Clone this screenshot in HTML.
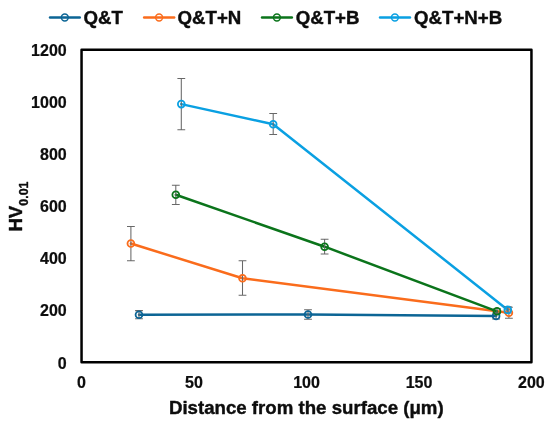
<!DOCTYPE html>
<html lang="en"><head><meta charset="utf-8"><title>HV0.01 vs distance from the surface</title>
<style>
html,body{margin:0;padding:0;background:#fff;}
body{width:550px;height:424px;overflow:hidden;}
svg{display:block;}
text{font-family:"Liberation Sans",Arial,sans-serif;font-weight:bold;fill:#0d0d0d;stroke:#0d0d0d;stroke-width:0.5px;stroke-linejoin:round;}
.t{font-size:16px;stroke-width:0.22px;}
.l{font-size:18.67px;stroke-width:0.4px;}
</style></head><body>
<svg width="550" height="424" viewBox="0 0 550 424">
<rect width="550" height="424" fill="#ffffff"/>
<polyline points="139.0,314.7 308.0,314.5 496.1,315.9" fill="none" stroke="#0c6595" stroke-width="2.5" stroke-linejoin="round" stroke-linecap="round"/>
<path d="M139.0 310.6V318.7M135.1 310.6h7.8M135.1 318.7h7.8" fill="none" stroke="#686868" stroke-width="1.05"/>
<path d="M308.0 309.8V319.3M304.1 309.8h7.8M304.1 319.3h7.8" fill="none" stroke="#686868" stroke-width="1.05"/>
<path d="M496.1 312.9V318.9M492.2 312.9h7.8M492.2 318.9h7.8" fill="none" stroke="#686868" stroke-width="1.05"/>
<circle cx="139.0" cy="314.7" r="3.4" fill="none" stroke="#0c6595" stroke-width="1.8"/>
<circle cx="308.0" cy="314.5" r="3.4" fill="none" stroke="#0c6595" stroke-width="1.8"/>
<circle cx="496.1" cy="315.9" r="3.4" fill="none" stroke="#0c6595" stroke-width="1.8"/>
<polyline points="130.9,243.5 242.5,278.3 508.9,312.8" fill="none" stroke="#fa6c1c" stroke-width="2.5" stroke-linejoin="round" stroke-linecap="round"/>
<path d="M130.9 226.5V260.8M127.0 226.5h7.8M127.0 260.8h7.8" fill="none" stroke="#686868" stroke-width="1.05"/>
<path d="M242.5 260.7V295.2M238.6 260.7h7.8M238.6 295.2h7.8" fill="none" stroke="#686868" stroke-width="1.05"/>
<path d="M508.9 307.3V318.3M505.0 307.3h7.8M505.0 318.3h7.8" fill="none" stroke="#686868" stroke-width="1.05"/>
<circle cx="130.9" cy="243.5" r="3.4" fill="none" stroke="#fa6c1c" stroke-width="1.8"/>
<circle cx="242.5" cy="278.3" r="3.4" fill="none" stroke="#fa6c1c" stroke-width="1.8"/>
<circle cx="508.9" cy="312.8" r="3.4" fill="none" stroke="#fa6c1c" stroke-width="1.8"/>
<polyline points="175.8,194.8 324.6,246.7 497.0,311.3" fill="none" stroke="#0b741b" stroke-width="2.5" stroke-linejoin="round" stroke-linecap="round"/>
<path d="M175.8 185.2V204.4M171.9 185.2h7.8M171.9 204.4h7.8" fill="none" stroke="#686868" stroke-width="1.05"/>
<path d="M324.6 239.2V253.9M320.7 239.2h7.8M320.7 253.9h7.8" fill="none" stroke="#686868" stroke-width="1.05"/>
<path d="M497.0 308.8V313.8M493.1 308.8h7.8M493.1 313.8h7.8" fill="none" stroke="#686868" stroke-width="1.05"/>
<circle cx="175.8" cy="194.8" r="3.4" fill="none" stroke="#0b741b" stroke-width="1.8"/>
<circle cx="324.6" cy="246.7" r="3.4" fill="none" stroke="#0b741b" stroke-width="1.8"/>
<circle cx="497.0" cy="311.3" r="3.4" fill="none" stroke="#0b741b" stroke-width="1.8"/>
<polyline points="181.3,104.1 273.2,124.2 507.8,309.9" fill="none" stroke="#0aa0e2" stroke-width="2.5" stroke-linejoin="round" stroke-linecap="round"/>
<path d="M181.3 78.5V129.7M177.4 78.5h7.8M177.4 129.7h7.8" fill="none" stroke="#686868" stroke-width="1.05"/>
<path d="M273.2 113.5V134.5M269.3 113.5h7.8M269.3 134.5h7.8" fill="none" stroke="#686868" stroke-width="1.05"/>
<path d="M507.8 306.8V313.0M503.9 306.8h7.8M503.9 313.0h7.8" fill="none" stroke="#686868" stroke-width="1.05"/>
<circle cx="181.3" cy="104.1" r="3.4" fill="none" stroke="#0aa0e2" stroke-width="1.8"/>
<circle cx="273.2" cy="124.2" r="3.4" fill="none" stroke="#0aa0e2" stroke-width="1.8"/>
<circle cx="507.8" cy="309.9" r="3.4" fill="none" stroke="#0aa0e2" stroke-width="1.8"/>
<rect x="81.55" y="49.7" width="449.90000000000003" height="312.65000000000003" fill="none" stroke="#000" stroke-width="2.5" stroke-linejoin="round"/>
<text class="t" x="66.7" y="368.5" text-anchor="end">0</text>
<text class="t" x="66.7" y="316.3" text-anchor="end">200</text>
<text class="t" x="66.7" y="264.2" text-anchor="end">400</text>
<text class="t" x="66.7" y="212.1" text-anchor="end">600</text>
<text class="t" x="66.7" y="160.0" text-anchor="end">800</text>
<text class="t" x="66.7" y="107.9" text-anchor="end">1000</text>
<text class="t" x="66.7" y="55.8" text-anchor="end">1200</text>
<text class="t" x="81.5" y="388.2" text-anchor="middle">0</text>
<text class="t" x="194.0" y="388.2" text-anchor="middle">50</text>
<text class="t" x="306.5" y="388.2" text-anchor="middle">100</text>
<text class="t" x="419.0" y="388.2" text-anchor="middle">150</text>
<text class="t" x="531.4" y="388.2" text-anchor="middle">200</text>
<text class="l" x="306.3" y="413.6" text-anchor="middle">Distance from the surface (μm)</text>
<text class="l" transform="translate(22.3 231.6) rotate(-90)">HV<tspan font-size="12.4px" dy="5.3">0.01</tspan></text>
<line x1="50.0" y1="17.45" x2="79.8" y2="17.45" stroke="#0c6595" stroke-width="2.4" stroke-linecap="round"/>
<circle cx="64.8" cy="17.45" r="3.45" fill="none" stroke="#0c6595" stroke-width="1.45"/>
<text class="l" x="83.5" y="23.55">Q&amp;T</text>
<line x1="144.1" y1="17.45" x2="174.2" y2="17.45" stroke="#fa6c1c" stroke-width="2.4" stroke-linecap="round"/>
<circle cx="159.1" cy="17.45" r="3.45" fill="none" stroke="#fa6c1c" stroke-width="1.45"/>
<text class="l" x="177.5" y="23.55">Q&amp;T+N</text>
<line x1="262.0" y1="17.45" x2="291.9" y2="17.45" stroke="#0b741b" stroke-width="2.4" stroke-linecap="round"/>
<circle cx="276.9" cy="17.45" r="3.45" fill="none" stroke="#0b741b" stroke-width="1.45"/>
<text class="l" x="295.7" y="23.55">Q&amp;T+B</text>
<line x1="380.0" y1="17.45" x2="410.0" y2="17.45" stroke="#0aa0e2" stroke-width="2.4" stroke-linecap="round"/>
<circle cx="394.9" cy="17.45" r="3.45" fill="none" stroke="#0aa0e2" stroke-width="1.45"/>
<text class="l" x="414.0" y="23.55">Q&amp;T+N+B</text>
</svg></body></html>
